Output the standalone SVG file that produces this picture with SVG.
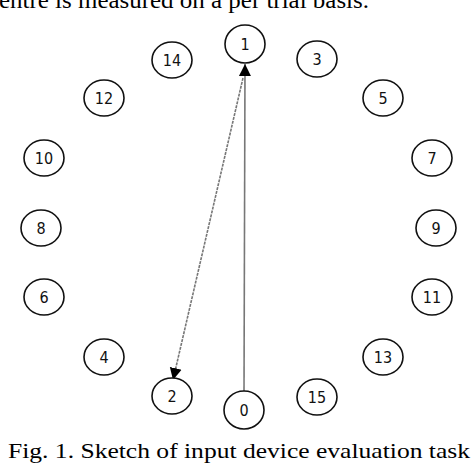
<svg xmlns="http://www.w3.org/2000/svg" width="474" height="464" viewBox="0 0 474 464">
<style>
.n ellipse{fill:#fff;stroke:#111;stroke-width:1.6}
.n text{font-family:"DejaVu Sans",sans-serif;font-stretch:condensed;font-size:16px;fill:#111;text-anchor:middle;dominant-baseline:central}
.t{font-family:"Liberation Serif",serif;fill:#000}
.c line{stroke:#777;stroke-width:1.6}
</style>
<defs>
<marker id="ah" viewBox="0 0 10 10" refX="10" refY="5" markerWidth="12" markerHeight="13" markerUnits="userSpaceOnUse" orient="auto">
<path d="M0,0 L10,5 L0,10 z" fill="#000"/>
</marker>
</defs>
<text class="t" x="-1" y="8" font-size="24" textLength="370" lengthAdjust="spacingAndGlyphs">entre is measured on a per trial basis.</text>
<g class="c">
<line x1="244" y1="392" x2="245" y2="64" marker-end="url(#ah)"/>
<line x1="243" y1="78" x2="173" y2="380" stroke-dasharray="3,1" marker-end="url(#ah)"/>
</g>
<g id="n1" class="n"><ellipse cx="245" cy="44" rx="20" ry="19"/><text x="245" y="44">1</text></g>
<g id="n3" class="n"><ellipse cx="317" cy="59" rx="20" ry="18"/><text x="317" y="59">3</text></g>
<g id="n14" class="n"><ellipse cx="172" cy="60" rx="20" ry="18"/><text x="172" y="60">14</text></g>
<g id="n12" class="n"><ellipse cx="104" cy="98" rx="20" ry="18"/><text x="104" y="98">12</text></g>
<g id="n5" class="n"><ellipse cx="383" cy="98" rx="20" ry="18"/><text x="383" y="98">5</text></g>
<g id="n10" class="n"><ellipse cx="44" cy="158" rx="20" ry="18"/><text x="44" y="158">10</text></g>
<g id="n7" class="n"><ellipse cx="432" cy="158" rx="20" ry="18"/><text x="432" y="158">7</text></g>
<g id="n8" class="n"><ellipse cx="41" cy="228" rx="20" ry="18"/><text x="41" y="228">8</text></g>
<g id="n9" class="n"><ellipse cx="436" cy="228" rx="20" ry="18"/><text x="436" y="228">9</text></g>
<g id="n6" class="n"><ellipse cx="44" cy="297" rx="20" ry="18"/><text x="44" y="297">6</text></g>
<g id="n11" class="n"><ellipse cx="432" cy="297" rx="20" ry="18"/><text x="432" y="297">11</text></g>
<g id="n4" class="n"><ellipse cx="104" cy="357" rx="20" ry="18"/><text x="104" y="357">4</text></g>
<g id="n13" class="n"><ellipse cx="383" cy="357" rx="20" ry="18"/><text x="383" y="357">13</text></g>
<g id="n2" class="n"><ellipse cx="172" cy="396" rx="20" ry="18"/><text x="172" y="396">2</text></g>
<g id="n15" class="n"><ellipse cx="317" cy="397" rx="20" ry="18"/><text x="317" y="397">15</text></g>
<g id="n0" class="n"><ellipse cx="244" cy="410" rx="20" ry="19"/><text x="244" y="410">0</text></g>
<text class="t" x="8" y="458" font-size="22" textLength="462" lengthAdjust="spacingAndGlyphs">Fig. 1. Sketch of input device evaluation task</text>
</svg>
